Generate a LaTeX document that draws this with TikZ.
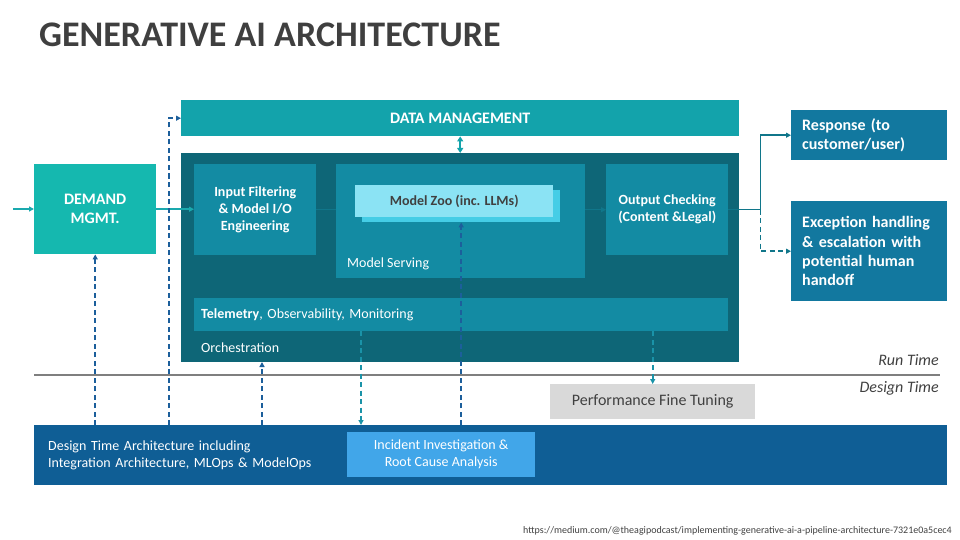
\documentclass[tikz,border=0pt]{standalone}
\usepackage{fontspec}
\setmainfont{Carlito}
\usetikzlibrary{arrows.meta, positioning}
\definecolor{titlegray}{HTML}{3F3F3F}
\definecolor{dataTeal}{HTML}{13A3AB}
\definecolor{orchTeal}{HTML}{0E6677}
\definecolor{innerTeal}{HTML}{138BA3}
\definecolor{demTeal}{HTML}{15B8AF}
\definecolor{outBlue}{HTML}{12789F}
\definecolor{dsgBlue}{HTML}{0F5E95}
\definecolor{incBlue}{HTML}{41A6E9}
\definecolor{zooFront}{HTML}{8BE3F4}
\definecolor{zooBack}{HTML}{45CDE6}
\definecolor{perfGray}{HTML}{D9D9D9}
\definecolor{textGray}{HTML}{404040}
\definecolor{dashBlue}{HTML}{1C5F9B}
\definecolor{dashTeal}{HTML}{1A93A8}
\definecolor{flowTeal}{HTML}{1AA9AE}
\definecolor{lineGray}{HTML}{7F7F7F}

\begin{document}
\begin{tikzpicture}[x=1pt, y=-1pt,
    blk/.style={rectangle, inner sep=0pt, anchor=north west, text=white,
      align=center, font=\bfseries\fontsize{14}{17}\selectfont},
    lbl/.style={anchor=base west, text=white, inner sep=0pt,
      font=\fontsize{14}{16}\selectfont},
    flow/.style={line width=1.5pt, -{Triangle[length=5pt,width=5pt]}},
    dashflow/.style={line width=1.6pt, dash pattern=on 5pt off 3.5pt,
      -{Triangle[length=5pt,width=5pt]}}
  ]
  \useasboundingbox (0,0) rectangle (960,540);
  % Title
  \node[anchor=base west, inner sep=0pt, text=titlegray,
        font=\bfseries\fontsize{36}{40}\selectfont] (title) at (39,47) {GENERATIVE AI ARCHITECTURE};
  % Run time blocks
  \node[blk, fill=dataTeal, minimum width=558, minimum height=36,
        font=\bfseries\fontsize{16}{18}\selectfont] (dm) at (181,100) {DATA MANAGEMENT};
  \node[blk, fill=orchTeal, minimum width=558, minimum height=209] (orch) at (181,153) {};
  \node[lbl] (orchlbl) at (201,352) {Orchestration};
  \node[blk, fill=innerTeal, minimum width=122, minimum height=91] (inp) at (194,164)
    {Input Filtering\\\& Model I/O\\Engineering};
  \node[blk, fill=innerTeal, minimum width=249, minimum height=114] (srv) at (336,164) {};
  \node[lbl] (srvlbl) at (347,267) {Model Serving};
  \node[blk, fill=zooBack, minimum width=198, minimum height=32] (zooback) at (362,190) {};
  \node[blk, fill=zooFront, minimum width=198, minimum height=32, text=textGray] (zoo) at (355,185)
    {Model Zoo (inc. LLMs)};
  \node[blk, fill=innerTeal, minimum width=122, minimum height=91] (outc) at (606,164)
    {Output Checking\\(Content \&Legal)};
  \node[blk, fill=innerTeal, minimum width=534, minimum height=33, text width=520, align=left,
        font=\fontsize{14}{16}\selectfont] (tel) at (194,298)
    {\textbf{Telemetry}, Observability, Monitoring};
  \node[blk, fill=demTeal, minimum width=122, minimum height=90,
        font=\bfseries\fontsize{16}{19}\selectfont] (dem) at (34,164) {DEMAND\\MGMT.};
  \node[blk, fill=outBlue, minimum width=156, minimum height=50, text width=134, align=left,
        font=\bfseries\fontsize{16}{19}\selectfont] (resp) at (791,110) {Response (to\\customer/user)};
  \node[blk, fill=outBlue, minimum width=156, minimum height=100, text width=134, align=left,
        font=\bfseries\fontsize{16}{19.3}\selectfont] (exc) at (791,201)
    {Exception handling\\\& escalation with\\potential human\\handoff};
  % Divider
  \draw[lineGray, line width=2pt] (34,375) -- (940,375);
  \node[anchor=base east, inner sep=0pt, text=textGray, font=\itshape\fontsize{16}{18}\selectfont]
    (runlbl) at (939,365) {Run Time};
  \node[anchor=base east, inner sep=0pt, text=textGray, font=\itshape\fontsize{16}{18}\selectfont]
    (dsglbl) at (939,392) {Design Time};
  % Design time blocks
  \node[blk, fill=perfGray, minimum width=205, minimum height=35, text=textGray,
        font=\fontsize{16}{18}\selectfont] (perf) at (550,384) {Performance Fine Tuning};
  \node[blk, fill=dsgBlue, minimum width=913, minimum height=60, text width=885, align=left,
        font=\fontsize{14}{17}\selectfont] (dsg) at (34,425)
    {Design Time Architecture including\\Integration Architecture, MLOps \& ModelOps};
  \node[blk, fill=incBlue, minimum width=188, minimum height=45,
        font=\fontsize{14}{17}\selectfont] (inc) at (347,432)
    {Incident Investigation \&\\Root Cause Analysis};
  \node[anchor=base east, inner sep=0pt, text=textGray, font=\fontsize{10}{12}\selectfont]
    (src) at (952,533) {https://medium.com/@theagipodcast/implementing-generative-ai-a-pipeline-architecture-7321e0a5cec4};
  % Solid flow
  \coordinate (start) at (13,209);
  \draw[flow, flowTeal] (start) -- (dem.west |- start);
  \draw[flow, flowTeal] (dem.east) -- (dem.east -| inp.west);
  \draw[line width=1.5pt, innerTeal!85!black] (inp.east) -- (inp.east -| srv.west);
  \draw[flow, innerTeal!85!black] (outc.west -| srv.east) -- (outc.west);
  \draw[flow, innerTeal!85!black] (outc.east) -- ++(32,0) coordinate (split) |- (resp.west);
  \draw[dashflow, innerTeal!85!black] (split) |- (exc.west);
  \draw[line width=1.5pt, dataTeal, {Triangle[length=5pt,width=6pt]}-{Triangle[length=5pt,width=6pt]}]
    (dm.south) -- (orch.north);
  % Dashed links
  \coordinate (orchtap) at (262,362);
  \coordinate (teltap) at (361,331);
  \draw[dashflow, dashBlue] (dem.south |- dsg.north) -- (dem.south);
  \draw[dashflow, dashBlue] (dsg.north -| dm.west) ++(-12,0) |- (dm.west);
  \draw[dashflow, dashBlue] (orchtap |- dsg.north) -- (orchtap);
  \draw[dashflow, dashBlue] (zooback.south |- dsg.north) -- (zooback.south);
  \draw[dashflow, dashTeal] (teltap) -- (teltap |- dsg.north);
  \draw[dashflow, dashTeal] (perf.north |- tel.south) -- (perf.north);
\end{tikzpicture}
\end{document}
